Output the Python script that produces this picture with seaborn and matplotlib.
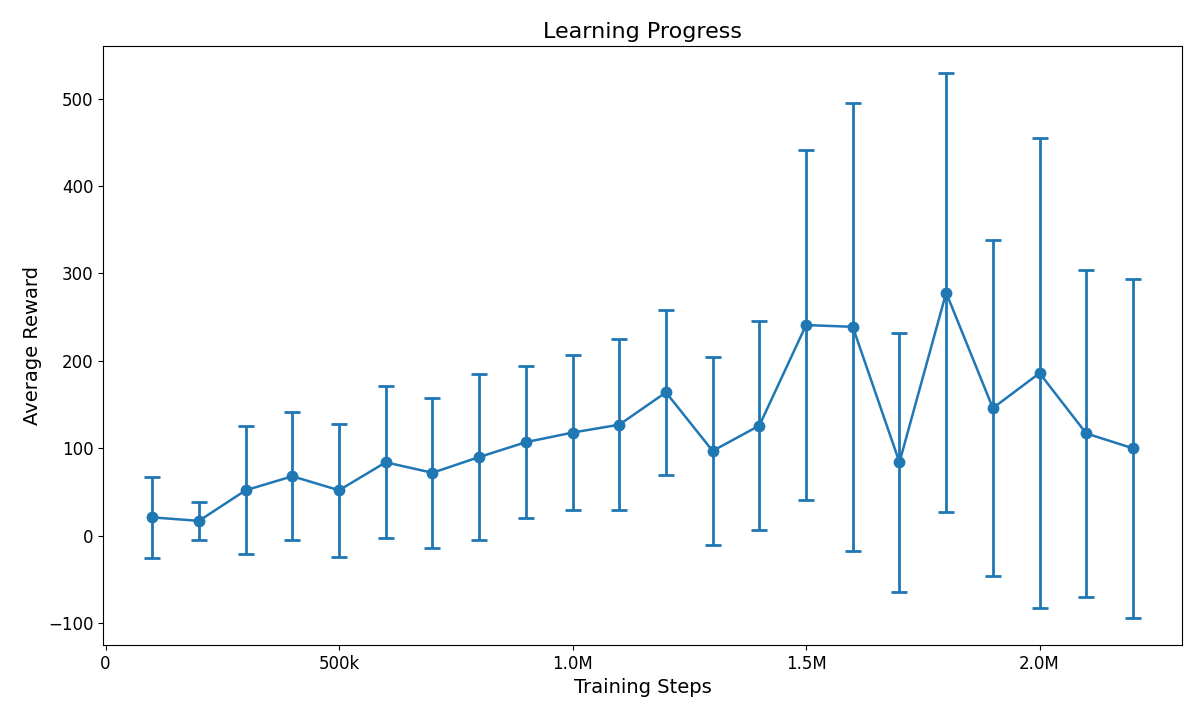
import numpy as np
import pandas as pd
import matplotlib
matplotlib.use("Agg")
import matplotlib.pyplot as plt
from matplotlib.ticker import FuncFormatter
import seaborn as sns

# ---------------------------------------------------------------
# Data
# ---------------------------------------------------------------
steps = [100_000 * i for i in range(1, 23)]
mean_reward = [21, 17, 52, 68, 52, 84, 72, 90, 107, 118, 127,
               164, 97, 126, 241, 239, 84, 278, 146, 186, 117, 100]
std_reward = [46, 22, 73, 73, 76, 87, 86, 95, 87, 89, 98,
              94, 108, 120, 200, 256, 148, 251, 192, 269, 187, 194]

df = pd.DataFrame({"steps": steps, "reward": mean_reward, "std": std_reward})

color = "#1f77b4"


def step_fmt(x, pos):
    if x >= 1e6:
        return f"{x / 1e6:.1f}M"
    if x >= 1e3:
        return f"{x / 1e3:.0f}k"
    return f"{x:.0f}"


fig, ax = plt.subplots(figsize=(12, 7.2), dpi=100)

ax.errorbar(df["steps"], df["reward"], yerr=df["std"], fmt="none",
            ecolor=color, elinewidth=2, capsize=6, capthick=2)
sns.lineplot(data=df, x="steps", y="reward", color=color, marker="o",
             markersize=8.5, markeredgewidth=0, linewidth=1.8, ax=ax)

ax.xaxis.set_major_formatter(FuncFormatter(step_fmt))
ax.set_title("Learning Progress", fontsize=16)
ax.set_xlabel("Training Steps", fontsize=14)
ax.set_ylabel("Average Reward", fontsize=14)
ax.tick_params(labelsize=12)

fig.subplots_adjust(left=0.086, right=0.985, top=0.936, bottom=0.104)
plt.savefig("out.png")
plt.close()
